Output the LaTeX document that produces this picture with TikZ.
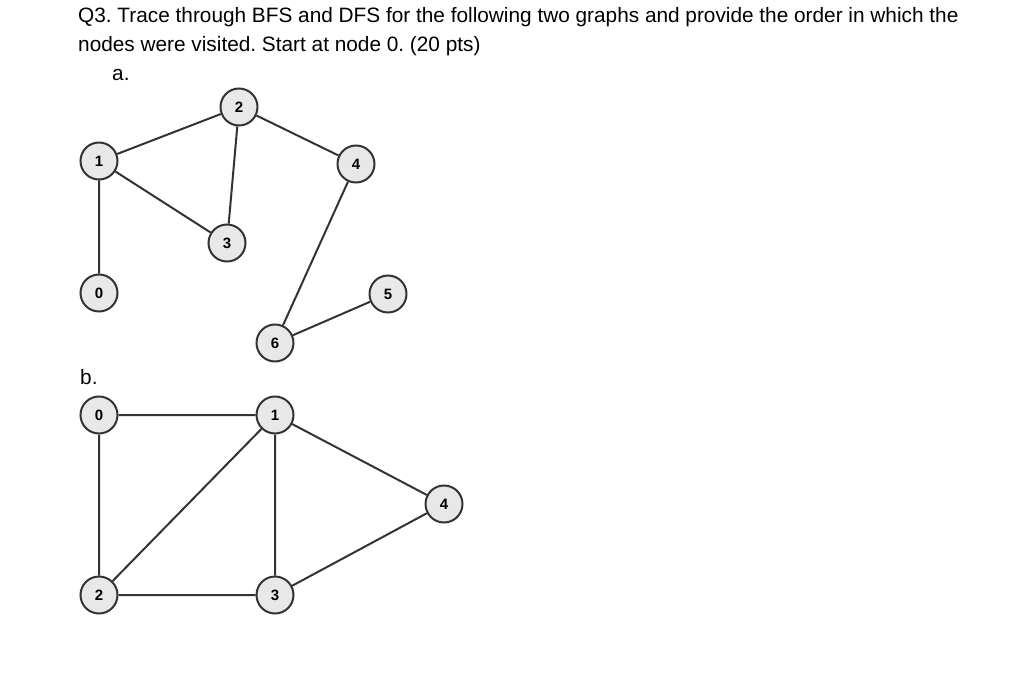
\documentclass[tikz,border=0pt]{standalone}
\usepackage{fontspec}
\setmainfont{Liberation Sans}
\begin{document}
\frenchspacing
\begin{tikzpicture}[x=1pt,y=-1pt,
  vtx/.style={circle,draw=black!80,line width=2pt,fill=black!9,minimum size=37pt,inner sep=0pt,font=\fontsize{15}{17}\selectfont\bfseries},
  edge/.style={draw=black!80,line width=2pt},
  txt/.style={anchor=base west,inner sep=0pt,font=\fontsize{20.8}{24}\selectfont}]
\useasboundingbox (0,0) rectangle (1024,676);
\node[txt] (t1) at (78,23) {Q3. Trace through BFS and DFS for the following two graphs and provide the order in which the};
\node[txt] (t2) at (78,52) {nodes were visited. Start at node 0. (20 pts)};
\node[txt] (la) at (112,81) {a.};
\node[txt] (lb) at (80,384) {b.};
\node[vtx] (a1) at (99,161) {1};
\node[vtx] (a2) at (239,107) {2};
\node[vtx] (a4) at (356,164) {4};
\node[vtx] (a3) at (227,243) {3};
\node[vtx] (a0) at (99,293) {0};
\node[vtx] (a5) at (388,294) {5};
\node[vtx] (a6) at (275,343) {6};
\path[edge] (a1)--(a2) (a1)--(a3) (a2)--(a3) (a2)--(a4) (a1)--(a0) (a4)--(a6) (a6)--(a5);
\node[vtx] (b0) at (99,415) {0};
\node[vtx] (b1) at (275,415) {1};
\node[vtx] (b4) at (444,504) {4};
\node[vtx] (b2) at (99,595) {2};
\node[vtx] (b3) at (275,595) {3};
\path[edge] (b0)--(b1) (b0)--(b2) (b2)--(b1) (b1)--(b3) (b2)--(b3) (b1)--(b4) (b3)--(b4);
\end{tikzpicture}
\end{document}
